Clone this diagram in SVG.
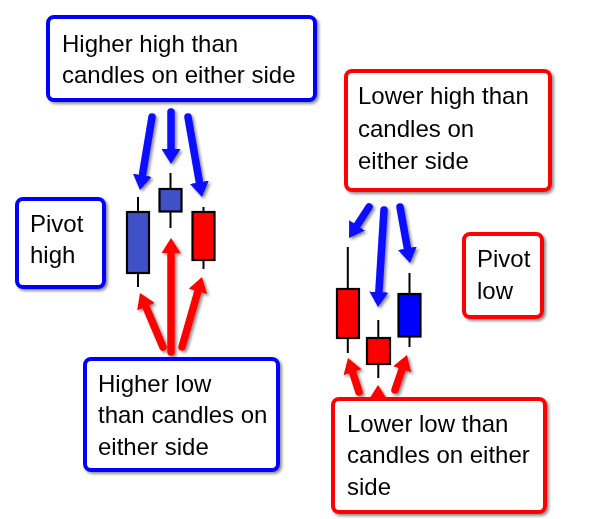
<svg xmlns="http://www.w3.org/2000/svg" width="593" height="519" viewBox="0 0 593 519">
<style>
.bb{fill:#fff;stroke:#0000ff;stroke-width:4}
.rb{fill:#fff;stroke:#ff0000;stroke-width:4}
.t{font-family:"Liberation Sans",Arial,sans-serif;font-size:24px;fill:#000}
.wick{stroke:#000;stroke-width:2}
.body{stroke:#000;stroke-width:2.2}
.ba{stroke:#0a0aff;stroke-width:7.5;fill:none;stroke-linecap:round;marker-end:url(#hb)}
.ra{stroke:#ff0000;stroke-width:7.5;fill:none;stroke-linecap:round;marker-end:url(#hr)}
</style>
<defs>
<filter id="sh" x="-20%" y="-20%" width="140%" height="140%">
<feDropShadow dx="2" dy="2" stdDeviation="1.5" flood-color="#000" flood-opacity="0.45"/>
</filter>
<marker id="hb" viewBox="0 0 15 19" refX="3" refY="9.5" markerWidth="15" markerHeight="19" markerUnits="userSpaceOnUse" orient="auto">
<path d="M0,0 L15,9.5 L0,19 z" fill="#0a0aff"/>
</marker>
<marker id="hr" viewBox="0 0 15 19" refX="3" refY="9.5" markerWidth="15" markerHeight="19" markerUnits="userSpaceOnUse" orient="auto">
<path d="M0,0 L15,9.5 L0,19 z" fill="#ff0000"/>
</marker>
</defs>
<rect width="593" height="519" fill="#fff"/>

<g id="connectors" filter="url(#sh)">
<line class="ba" x1="152" y1="117" x2="141.9" y2="178.2"/>
<line class="ba" x1="171" y1="112" x2="171" y2="152"/>
<line class="ba" x1="188" y1="117" x2="199.9" y2="185.2"/>
<line class="ra" x1="163" y1="347" x2="144.7" y2="304"/>
<line class="ra" x1="171" y1="352" x2="171" y2="250"/>
<line class="ra" x1="182" y1="347" x2="198.7" y2="288.5"/>
<line class="ba" x1="369" y1="207" x2="355.5" y2="227.9"/>
<line class="ba" x1="384" y1="210" x2="378.7" y2="295"/>
<line class="ba" x1="400" y1="207" x2="407.9" y2="251.2"/>
<line class="ra" x1="359" y1="392" x2="351.7" y2="369.4"/>
<line class="ra" x1="378" y1="410" x2="378" y2="397"/>
<line class="ra" x1="395" y1="390" x2="403.1" y2="366.4"/>
</g>

<g id="candles-left">
<line class="wick" x1="138" y1="197" x2="138" y2="287"/>
<rect class="body" x="127" y="212" width="22" height="61" fill="#4050c8"/>
<line class="wick" x1="170.5" y1="173" x2="170.5" y2="228"/>
<rect class="body" x="159.5" y="189" width="22" height="22.5" fill="#4050c8"/>
<line class="wick" x1="203.5" y1="207" x2="203.5" y2="269"/>
<rect class="body" x="192.5" y="212" width="22" height="48" fill="#ff0000"/>
</g>

<g id="candles-right">
<line class="wick" x1="347.8" y1="247" x2="347.8" y2="353"/>
<rect class="body" x="337" y="289" width="22" height="49" fill="#ff0000"/>
<line class="wick" x1="378.3" y1="320" x2="378.3" y2="378"/>
<rect class="body" x="367" y="338" width="23" height="26" fill="#ff0000"/>
<line class="wick" x1="409.5" y1="273" x2="409.5" y2="347"/>
<rect class="body" x="398.5" y="294" width="22" height="42.5" fill="#0000ff"/>
</g>

<g id="higher-high" filter="url(#sh)">
<rect class="bb" x="48" y="17" width="267" height="83" rx="6"/>
<text class="t" x="62" y="52">Higher high than</text>
<text class="t" x="62" y="83">candles on either side</text>
</g>

<g id="pivot-high" filter="url(#sh)">
<rect class="bb" x="17" y="199" width="87" height="88" rx="6"/>
<text class="t" x="30" y="232">Pivot</text>
<text class="t" x="30" y="263">high</text>
</g>

<g id="higher-low" filter="url(#sh)">
<rect class="bb" x="85" y="359" width="193" height="111" rx="6"/>
<text class="t" x="98" y="392">Higher low</text>
<text class="t" x="98" y="423">than candles on</text>
<text class="t" x="98" y="455">either side</text>
</g>

<g id="lower-high" filter="url(#sh)">
<rect class="rb" x="346" y="71" width="204" height="119" rx="6"/>
<text class="t" x="358" y="104">Lower high than</text>
<text class="t" x="358" y="137">candles on</text>
<text class="t" x="358" y="169">either side</text>
</g>

<g id="pivot-low" filter="url(#sh)">
<rect class="rb" x="464" y="234" width="78" height="83" rx="6"/>
<text class="t" x="477" y="267">Pivot</text>
<text class="t" x="477" y="299">low</text>
</g>

<g id="lower-low" filter="url(#sh)">
<rect class="rb" x="333" y="399" width="212" height="113" rx="6"/>
<text class="t" x="347" y="432">Lower low than</text>
<text class="t" x="347" y="463">candles on either</text>
<text class="t" x="347" y="495">side</text>
</g>
</svg>
